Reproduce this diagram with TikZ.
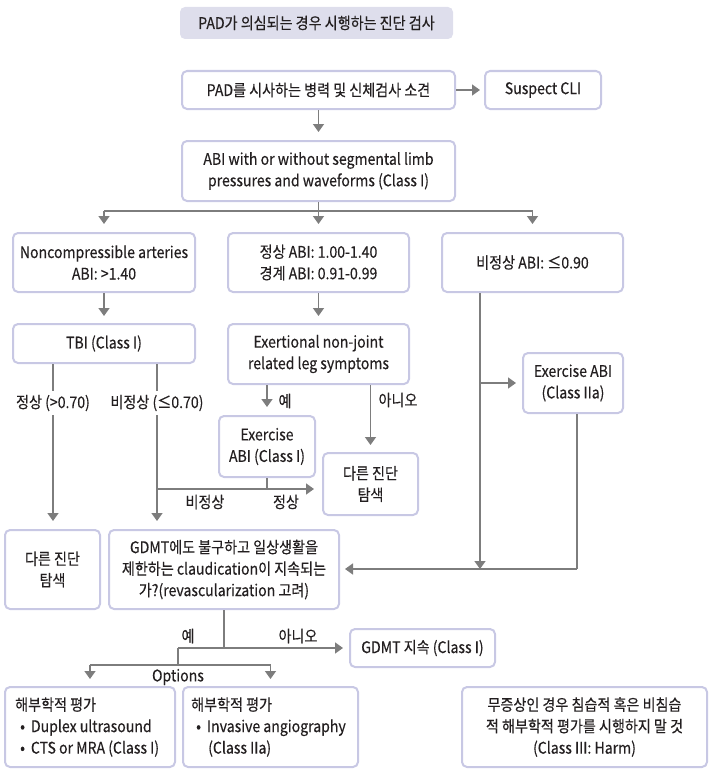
\documentclass[tikz,border=0pt]{standalone}
\usepackage{fontspec}
\setmainfont{Noto Sans CJK KR}[FakeStretch=0.88, FakeBold=0.3]
\usetikzlibrary{arrows.meta}
\definecolor{boxc}{RGB}{200,200,228}
\definecolor{titlec}{RGB}{222,222,236}
\definecolor{arrc}{RGB}{125,125,125}
\definecolor{txtc}{RGB}{35,31,32}
\begin{document}
\begin{tikzpicture}[x=1pt,y=-1pt,
 every node/.style={text=txtc, font=\fontsize{16}{21.5}\selectfont},
 box/.style={draw=boxc, line width=2pt, rounded corners=5pt, fill=white, align=center, inner sep=0pt},
 ln/.style={draw=arrc, line width=1.5pt},
 arr/.style={ln, -{Triangle[length=8pt,width=11pt]}},
 lbl/.style={inner sep=0pt},
 vlbl/.style={inner xsep=0pt, inner ysep=4pt}]
\useasboundingbox (0,0) rectangle (709,776);
% boxes
\node[box, draw=none, fill=titlec, minimum width=273pt, minimum height=32pt] (title) at (316.5,23) {PAD가 의심되는 경우 시행하는 진단 검사};
\node[box, minimum width=273pt, minimum height=38pt] (pad) at (318.5,90) {PAD를 시사하는 병력 및 신체검사 소견};
\node[box, minimum width=116pt, minimum height=38pt] (cli) at (543,90) {Suspect CLI};
\node[box, minimum width=273pt, minimum height=60pt] (abi) at (318.5,171) {ABI with or without segmental limb\\pressures and waveforms (Class I)};
\node[box, minimum width=182pt, minimum height=59pt] (nc) at (104,262.5) {Noncompressible arteries\\ABI: >1.40};
\node[box, minimum width=181pt, minimum height=59pt] (nr) at (318.5,262.5) {정상 ABI: 1.00-1.40\\경계 ABI: 0.91-0.99};
\node[box, minimum width=181pt, minimum height=59pt] (ab) at (532.5,262.5) {비정상 ABI: ≤0.90};
\node[box, minimum width=182pt, minimum height=39pt] (tbi) at (104,343.5) {TBI (Class I)};
\node[box, minimum width=181pt, minimum height=60pt] (ex) at (318.5,354) {Exertional non-joint\\related leg symptoms};
\node[box, minimum width=96pt, minimum height=61pt] (exi) at (267,446.5) {Exercise\\ABI (Class I)};
\node[box, minimum width=95pt, minimum height=62pt] (oth2) at (370.5,484) {다른 진단\\탐색};
\node[box, minimum width=100pt, minimum height=60pt] (exa) at (573,383) {Exercise ABI\\(Class IIa)};
\node[box, minimum width=95pt, minimum height=79pt] (oth1) at (52.5,569.5) {다른 진단\\탐색};
\node[box, minimum width=230pt, minimum height=79pt] (gdmt) at (224,569.5) {GDMT에도 불구하고 일상생활을\\제한하는 claudication이 지속되는\\가?(revascularization 고려)};
\node[box, minimum width=145pt, minimum height=38pt] (cont) at (422.5,648) {GDMT 지속 (Class I)};
\node[box, minimum width=170pt, minimum height=80pt] (b1) at (90,727) {};
\node[lbl, anchor=west, align=left] (b1t) at ([xshift=11pt]b1.west) {해부학적 평가\\\hspace*{5pt}•\hspace*{6pt}Duplex ultrasound\\\hspace*{5pt}•\hspace*{6pt}CTS or MRA (Class I)};
\node[box, minimum width=175pt, minimum height=80pt] (b2) at (270.5,727) {};
\node[lbl, anchor=west, align=left] (b2t) at ([xshift=9pt]b2.west) {해부학적 평가\\\hspace*{5pt}•\hspace*{6pt}Invasive angiography\\\hspace*{17pt}(Class IIa)};
\node[box, minimum width=245pt, minimum height=80pt] (b3) at (584.5,727) {무증상인 경우 침습적 혹은 비침습\\적 해부학적 평가를 시행하지 말 것\\(Class III: Harm)};
% labels
\node[vlbl] (l1) at (53,403) {정상 (>0.70)};
\node[vlbl] (l2) at (157,403) {비정상 (≤0.70)};
\node[lbl] (ly1) at (285,401) {예};
\node[lbl] (ln1) at (398,400) {아니오};
\node[lbl] (la) at (205,502) {비정상};
\node[lbl] (lb) at (286,502) {정상};
\node[lbl] (ly2) at (188,636) {예};
\node[lbl] (ln2) at (298,636) {아니오};
\node[lbl] (opt) at (178,677) {Options};
% coordinates
\coordinate (br) at (318.5,211);
\coordinate (hj) at (157,489);
\coordinate (vx) at (480,569);
\coordinate (rc) at (577,569);
\coordinate (g1) at (224,648);
\coordinate (g2) at (178,648);
\coordinate (g3) at (178,665);
% connectors
\draw[arr, shorten >=4pt] (pad.east) -- (cli.west);
\draw[arr, shorten >=8pt] (pad.south) -- (abi.north);
\draw[ln] (abi.south) -- (br);
\draw[ln] (br -| nc.north) -- (br -| ab.north);
\draw[arr, shorten >=8pt] (br -| nc.north) -- (nc.north);
\draw[arr, shorten >=8pt] (br) -- (nr.north);
\draw[arr, shorten >=8pt] (br -| ab.north) -- (ab.north);
\draw[arr, shorten >=7pt] (nc.south) -- (tbi.north);
\draw[arr, shorten >=7pt] (nr.south) -- (ex.north);
\draw[ln] (tbi.south -| l1.north) -- (l1.north);
\draw[arr, shorten >=8pt] (l1.south) -- (l1.south |- oth1.north);
\draw[ln] (tbi.south -| l2.north) -- (l2.north);
\draw[arr, shorten >=8pt] (l2.south) -- (l2.south |- gdmt.north);
\draw[arr, shorten >=8pt] (ex.south -| exi.north) -- (exi.north);
\draw[arr, shorten >=7pt] (ex.south -| oth2.north) -- (oth2.north);
\draw[ln] (exi.south) -- (exi.south |- hj);
\draw[arr, shorten >=8pt] (hj) -- (hj -| oth2.west);
\draw[arr] (vx |- ab.south) -- (vx);
\draw[arr, shorten >=6pt] (vx |- exa.west) -- (exa.west);
\draw[ln] (exa.south -| rc) -- (rc);
\draw[arr, shorten >=5pt] (rc) -- (rc -| gdmt.east);
\draw[ln] (gdmt.south) -- (g1);
\draw[arr, shorten >=6pt] (g2) -- (cont.west);
\draw[ln] (g2) -- (g3);
\draw[ln] (g3 -| b1.north) -- (g3 -| b2.north);
\draw[arr, shorten >=7pt] (g3 -| b1.north) -- (b1.north);
\draw[arr, shorten >=7pt] (g3 -| b2.north) -- (b2.north);
\end{tikzpicture}
\end{document}
